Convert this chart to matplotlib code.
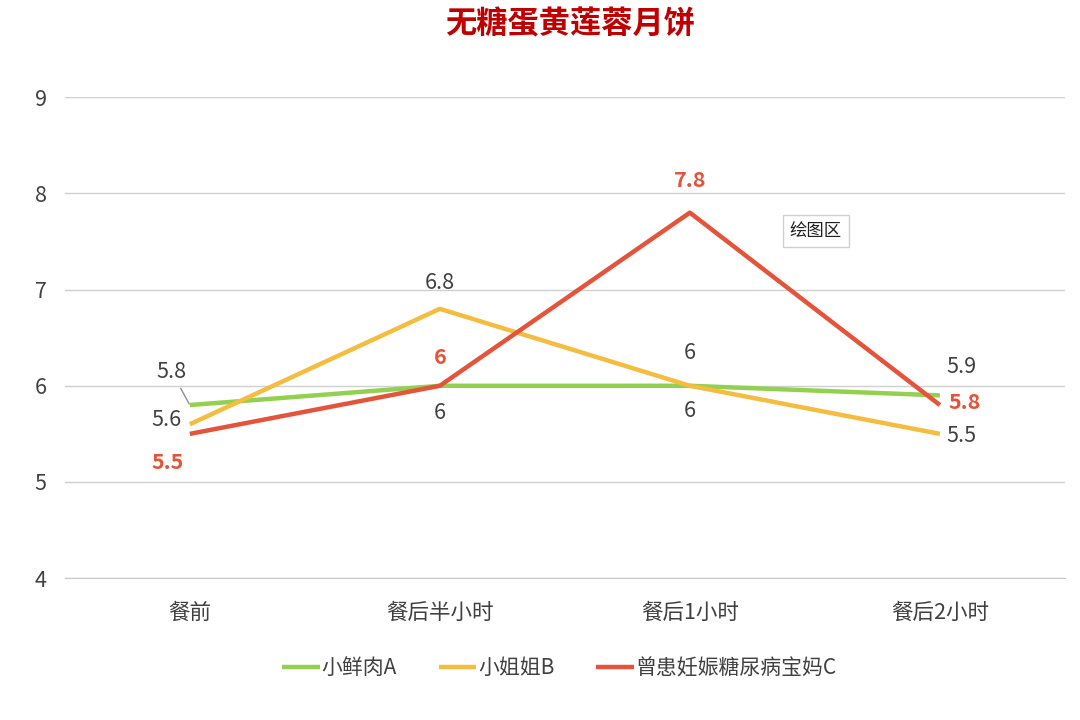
import matplotlib
matplotlib.use('Agg')
import matplotlib.pyplot as plt
import numpy as np

plt.rcParams['font.family'] = ['Noto Sans CJK SC', 'DejaVu Sans']

# data
categories = ['餐前', '餐后半小时', '餐后1小时', '餐后2小时']
series_names = ['小鲜肉A', '小姐姐B', '曾患妊娠糖尿病宝妈C']
green_vals = [5.8, 6.0, 6.0, 5.9]
yellow_vals = [5.6, 6.8, 6.0, 5.5]
red_vals = [5.5, 6.0, 7.8, 5.8]
yticks = [4, 5, 6, 7, 8, 9]

c_green = '#92d050'
c_yellow = '#f4bd3f'
c_red = '#e4533a'
c_text = '#404040'

fig = plt.figure(figsize=(10.8, 7.2), dpi=100)
ax = fig.add_axes([0.060, 0.197, 0.926, 0.668])

x = np.arange(len(categories)) + 0.5
l1, = ax.plot(x, green_vals, color=c_green, lw=3.2, label=series_names[0], solid_capstyle='butt')
l2, = ax.plot(x, yellow_vals, color=c_yellow, lw=3.2, label=series_names[1], solid_capstyle='butt')
l3, = ax.plot(x, red_vals, color=c_red, lw=3.2, label=series_names[2], solid_capstyle='butt')

ax.set_xlim(0, 4)
ax.set_ylim(4, 9)
ax.set_yticks(yticks)
ax.set_xticks(x)
ax.set_xticklabels(categories)
ax.tick_params(axis='both', length=0, labelsize=15.5, colors=c_text)
ax.tick_params(axis='y', pad=13)
ax.tick_params(axis='x', pad=17)
ax.grid(axis='y', color='#d0d0d0', lw=1)
for s in ['top', 'right', 'left']:
    ax.spines[s].set_visible(False)
ax.spines['bottom'].set_color('#c8c8c8')
ax.set_axisbelow(True)

# data labels (offsets in pixels, converted to points)
def lab(i, vals, dx, dy, color=c_text, bold=False):
    v = vals[i]
    ax.annotate('%g' % v, (x[i], v), xytext=(dx * 0.72, dy * 0.72), textcoords='offset points',
                ha='center', va='center', fontsize=15.5, color=color,
                fontweight='bold' if bold else 'normal')

# green
ax.annotate('5.8', (x[0], green_vals[0]), xytext=(-18 * 0.72, 33 * 0.72), textcoords='offset points',
            ha='center', va='center', fontsize=15.5, color=c_text,
            arrowprops=dict(arrowstyle='-', color='#909090', lw=1, shrinkA=2, shrinkB=1))
lab(1, green_vals, 0, -27)
lab(2, green_vals, 0, -25)
lab(3, green_vals, 22, 28)
# yellow
lab(0, yellow_vals, -23, 4)
lab(1, yellow_vals, 0, 26)
lab(2, yellow_vals, 0, 33)
lab(3, yellow_vals, 22, -2)
# red
lab(0, red_vals, -22, -29, c_red, True)
lab(1, red_vals, 0, 28, c_red, True)
lab(2, red_vals, 0, 32, c_red, True)
lab(3, red_vals, 25, 3, c_red, True)

# plot-area tooltip
fig.text(0.7555, 0.679, '绘图区', fontsize=12.5, color='#202020', ha='center', va='center',
         bbox=dict(boxstyle='square,pad=0.4', fc='white', ec='#d0d0d0', lw=1))

fig.text(0.528, 0.966, '无糖蛋黄莲蓉月饼', fontsize=22.5, fontweight='bold',
         color='#c00000', ha='center', va='center')

fig.legend(handles=[l1, l2, l3], loc='center', bbox_to_anchor=(0.518, 0.072), ncol=3,
           frameon=False, fontsize=15, handlelength=1.8, handletextpad=0.1,
           columnspacing=2.0, labelcolor=c_text)

fig.savefig('out.png', dpi=100)
